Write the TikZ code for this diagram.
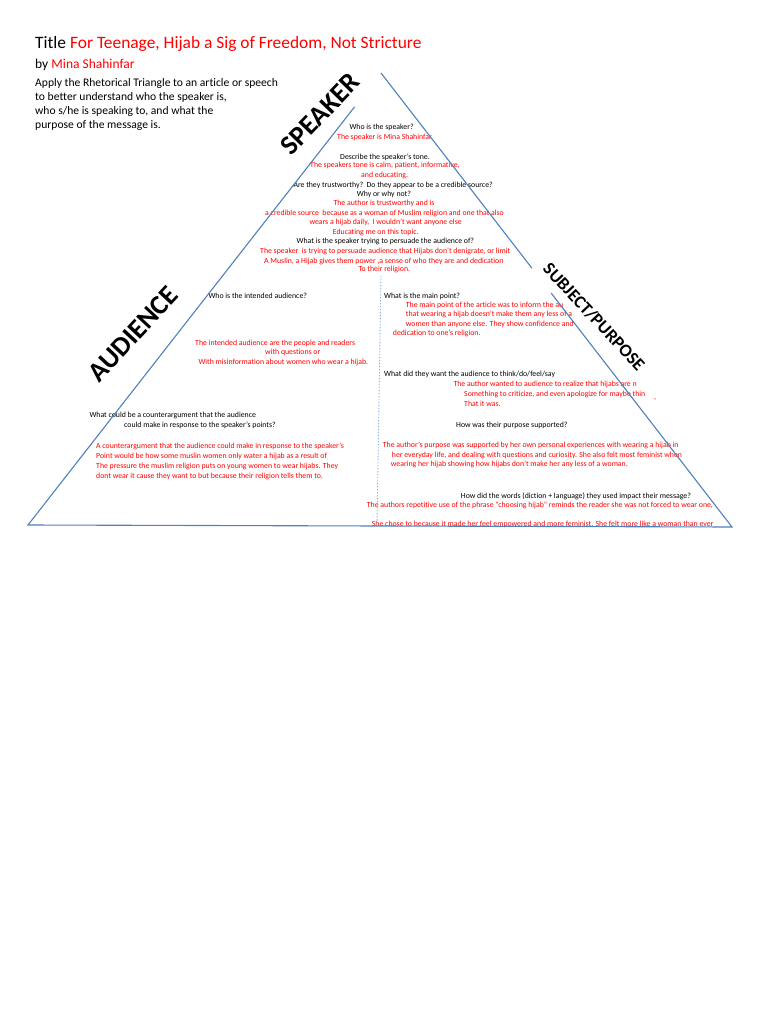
\documentclass[tikz,border=0pt]{standalone}
\usepackage{fontspec}
\setmainfont{Carlito}[Ligatures=NoCommon]
\usetikzlibrary{calc}
\definecolor{triblue}{RGB}{79,129,189}
\definecolor{dotblue}{RGB}{141,180,226}
\definecolor{txtred}{RGB}{255,0,0}
\begin{document}
\begin{tikzpicture}[x=1pt,y=-1pt,
  q/.style={anchor=west,inner sep=0pt,font=\fontsize{7.8}{9}\selectfont,text height=0.7em,text depth=0.2em},
  ans/.style={q,text=txtred},
  intro/.style={anchor=west,inner sep=0pt,font=\fontsize{11.6}{14}\selectfont,text height=0.7em,text depth=0.2em},
  biglbl/.style={inner sep=0pt,font=\bfseries\fontsize{27.5}{28}\selectfont},
  midlbl/.style={inner sep=0pt,font=\bfseries\fontsize{17.9}{18}\selectfont},
  triedge/.style={draw=triblue,line width=1.1pt},
  midline/.style={draw=dotblue,line width=0.9pt,dash pattern=on 1.3pt off 1.7pt}]
\useasboundingbox (0,0) rectangle (768,1024);
\fill[white] (0,0) rectangle (768,1024);

% header
\node[anchor=west,inner sep=0pt,font=\fontsize{17.4}{20}\selectfont,text height=0.7em,text depth=0.2em] (title) at (35,46) {Title \textcolor{txtred}{For Teenage, Hijab a Sig of Freedom, Not Stricture}};
\node[anchor=west,inner sep=0pt,font=\fontsize{13.5}{16}\selectfont,text height=0.7em,text depth=0.2em] (byline) at (35,66) {by \textcolor{txtred}{Mina Shahinfar}};
\node[intro] (in1) at (35,84) {Apply the Rhetorical Triangle to an article or speech};
\node[intro] (in2) at (35,98.3) {to better understand who the speaker is,};
\node[intro] (in3) at (35,112) {who s/he is speaking to, and what the};
\node[intro] (in4) at (35,126) {purpose of the message is.};

% triangle corners
\coordinate (A) at (381,73);
\coordinate (B) at (28,525);
\coordinate (C) at (732,527);

% speaker section
\node[q] (s1) at (349.3,126.7) {Who is the speaker?};
\node[ans] (s2) at (337,137) {The speaker is Mina Shahinfar};
\node[q] (s3) at (340,156.7) {Describe the speaker’s tone.};
\node[ans] (s4) at (310,165.5) {The speakers tone is calm, patient, informative,};
\node[ans] (s5) at (361,175) {and educating.};
\node[q] (s6) at (293.3,185) {Are they trustworthy?\ \ Do they appear to be a credible source?};
\node[q] (s7) at (356.7,193.7) {Why or why not?};
\node[ans] (s8) at (333.3,203.3) {The author is trustworthy and is};
\node[ans] (s9) at (265,213.3) {a credible source\ \ because as a woman of Muslim religion and one that also};
\node[ans] (s10) at (309.3,221.7) {wears a hijab daily,\ \ I wouldn’t want anyone else};
\node[ans] (s11) at (332.7,231.7) {Educating me on this topic.};
\node[q] (s12) at (296.5,240.7) {What is the speaker trying to persuade the audience of?};
\node[ans] (s13) at (260,250.7) {The speaker\ \ is trying to persuade audience that Hijabs don’t denigrate, or limit};
\node[ans] (s14) at (264,260.7) {A Muslin, a Hijab gives them power ,a sense of who they are and dedication};
\node[ans] (s15) at (358.3,269.3) {To their religion.};

% audience section
\node[q] (a1) at (208.3,295.7) {Who is the intended audience?};
\node[ans] (a2) at (195,342.7) {The intended audience are the people and readers};
\node[ans] (a3) at (265,352.3) {with questions or};
\node[ans] (a4) at (198.3,361.7) {With misinformation about women who wear a hijab.};

% subject section
\node[q] (p1) at (384,295.7) {What is the main point?};
\node[ans] (p2) at (405.7,305) {The main point of the article was to inform the au};
\node[ans] (p3) at (405.7,314.3) {that wearing a hijab doesn’t make them any less of a};
\node[ans] (p4) at (405.7,323.6) {women than anyone else. They show confidence and};
\node[ans] (p5) at (392.7,333.3) {dedication to one’s religion.};
\node[q] (p6) at (384,374) {What did they want the audience to think/do/feel/say};
\node[ans] (p7) at (453.3,384.3) {The author wanted to audience to realize that hijabs are n};
\node[ans] (p8) at (464,394) {Something to criticize, and even apologize for maybe thin};
\node[ans] (p9) at (464,404) {That it was.};
\node[ans] (p10) at (654,397) {,};

% counterargument
\node[q] (c1) at (89.3,415) {What could be a counterargument that the audience};
\node[q] (c2) at (124,425) {could make in response to the speaker’s points?};
\node[ans] (c3) at (96,445.7) {A counterargument that the audience could make in response to the speaker’s};
\node[ans] (c4) at (96,455.7) {Point would be how some muslin women only water a hijab as a result of};
\node[ans] (c5) at (96,466) {The pressure the muslim religion puts on young women to wear hijabs. They};
\node[ans] (c6) at (96,476) {dont wear it cause they want to but because their religion tells them to.};

% support
\node[q] (u1) at (456,425) {How was their purpose supported?};
\node[ans] (u2) at (382.7,445) {The author’s purpose was supported by her own personal experiences with wearing a hijab in};
\node[ans] (u3) at (391.7,454.5) {her everyday life, and dealing with questions and curiosity. She also felt most feminist when};
\node[ans] (u4) at (390.7,464) {wearing her hijab showing how hijabs don’t make her any less of a woman.};
\node[q] (w1) at (460.7,495.7) {How did the words (diction + language) they used impact their message?};
\node[ans] (w2) at (366.7,505) {The authors repetitive use of the phrase “choosing hijab” reminds the reader she was not forced to wear one,};
\node[ans] (w3) at (371.7,524) {She chose to because it made her feel empowered and more feminist. She felt more like a woman than ever};

% triangle edges
\draw[triedge] ($(A)!0.075!(B)$) -- (B) -- (C) -- ($(A)!0.485!(C)$);
\draw[triedge] ($(A)!0.43!(C)$) -- (A);
\draw[midline] (381,276) -- (377,525);

% labels
\node[biglbl,rotate=46] (speaker) at (320,114) {SPEAKER};
\node[biglbl,rotate=47] (audience) at (133,334) {AUDIENCE};
\node[midlbl,rotate=-47] (subject) at (594,317) {SUBJECT/PURPOSE};
\end{tikzpicture}
\end{document}
